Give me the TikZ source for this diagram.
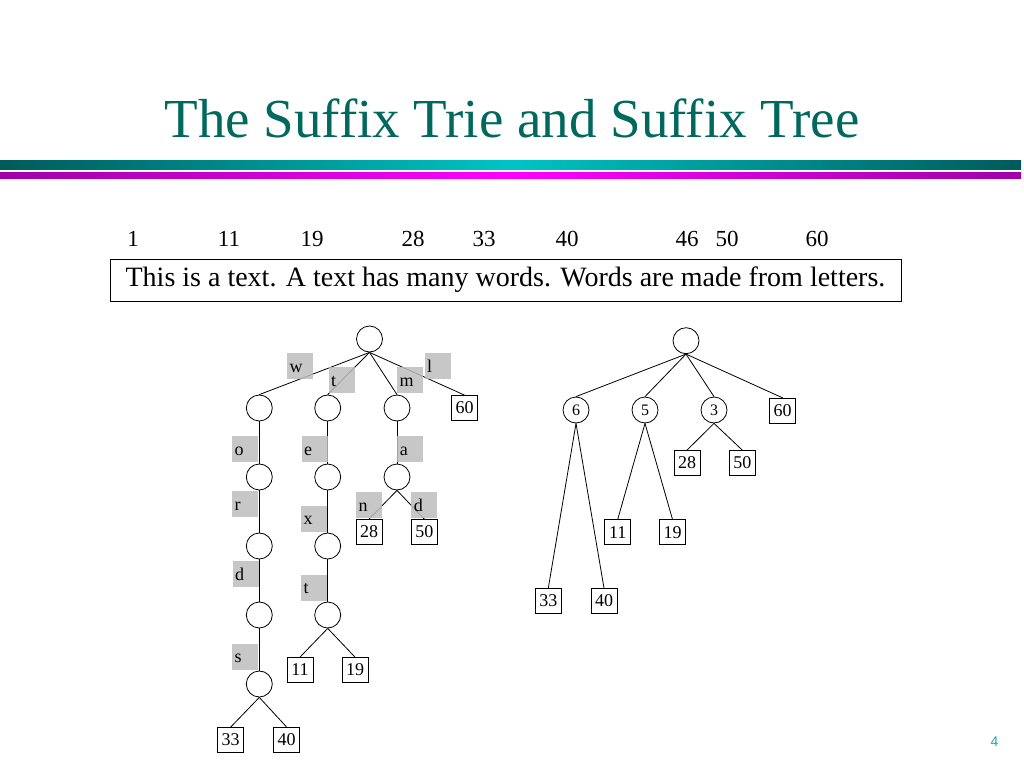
\documentclass[tikz,border=0pt]{standalone}
\usepackage{fontspec}
\setmainfont{Liberation Serif}
\newfontfamily\pagenofont{Liberation Sans}
\definecolor{titlegreen}{HTML}{00685C}
\definecolor{bardark}{HTML}{005A5A}
\definecolor{barlight}{HTML}{00C4C4}
\definecolor{pinkdark}{HTML}{A000A8}
\definecolor{pinklight}{HTML}{FF00FF}
\definecolor{pageno}{HTML}{1FA3B5}
\definecolor{labgray}{HTML}{BDBDBD}

\begin{document}
\begin{tikzpicture}[x=1pt, y=-1pt, line width=0.8pt,
  tnode/.style={draw, circle, minimum size=26pt, inner sep=0pt, font=\fontsize{16}{16}\selectfont},
  leaf/.style={draw, rectangle, minimum width=26pt, minimum height=25pt, inner sep=0pt, font=\fontsize{18}{18}\selectfont},
  lab/.style={fill=labgray, fill opacity=0.85, text opacity=1, minimum height=26pt, text width=21pt, text height=15pt, text depth=3pt, inner xsep=2.5pt, inner ysep=0pt, align=left, font=\fontsize{18}{18}\selectfont},
  posnum/.style={anchor=base, font=\fontsize{23}{23}\selectfont}]
\useasboundingbox (0,0) rectangle (1024,768);

% header
\node (title) at (512,118) {\fontsize{55}{55}\selectfont\color{titlegreen}The Suffix Trie and Suffix Tree};
\shade[left color=bardark, right color=bardark, middle color=barlight] (0,160) rectangle (1021,169);
\shade[left color=pinkdark, right color=pinkdark, middle color=pinklight] (0,172) rectangle (1021,178);

% text and positions
\node[draw, minimum width=791pt, minimum height=42pt, inner sep=0pt, font=\fontsize{28}{28}\selectfont] (text) at (505.5,280) {This is a text. A text has many words. Words are made from letters.};
\foreach \p/\x in {1/133, 11/229, 19/312, 28/413, 33/484, 40/567, 46/687, 50/727, 60/817}
  \node[posnum] (p\p) at (\x,246) {\p};

% suffix trie
\node[tnode] (root) at (369.5,339) {};
\node[tnode] (w1) at (259.3,408) {};
\node[tnode] (t1) at (327.7,408) {};
\node[tnode] (m1) at (397,408) {};
\node[leaf] (l60) at (464.5,408) {60};
\node[tnode] (o2) at (259.3,477) {};
\node[tnode] (e2) at (327.7,477) {};
\node[tnode] (a2) at (397,477) {};
\node[tnode] (r3) at (259.3,546) {};
\node[tnode] (x3) at (327.7,546) {};
\node[leaf] (n28) at (369,532) {28};
\node[leaf] (d50) at (424.3,532) {50};
\node[tnode] (d4) at (259.3,615) {};
\node[tnode] (t4) at (327.7,615) {};
\node[leaf] (t11) at (300,670) {11};
\node[leaf] (t19) at (355,670) {19};
\node[tnode] (s5) at (259.3,684) {};
\node[leaf] (s33) at (230.7,740) {33};
\node[leaf] (s40) at (286.7,740) {40};

\draw (root.south) -- (w1.north);
\draw (root.south) -- (t1.north);
\draw (root.south) -- (m1.north);
\draw (root.south) -- (l60.north);
\draw (w1) -- (o2);
\draw (o2) -- (r3);
\draw (r3) -- (d4);
\draw (d4) -- (s5);
\draw (s5.south) -- (s33.north);
\draw (s5.south) -- (s40.north);
\draw (t1) -- (e2);
\draw (e2) -- (x3);
\draw (x3) -- (t4);
\draw (t4.south) -- (t11.north);
\draw (t4.south) -- (t19.north);
\draw (m1) -- (a2);
\draw (a2.south) -- (n28.north);
\draw (a2.south) -- (d50.north);

% edge letters
\node[lab] (lw) at (300,366) {w};
\node[lab] (lt) at (341.7,380) {t};
\node[lab] (lm) at (410,380) {m};
\node[lab] (ll) at (437.7,366) {l};
\node[lab] (lo) at (245,449) {o};
\node[lab] (le) at (314.5,449) {e};
\node[lab] (la) at (410.3,449) {a};
\node[lab] (lr) at (245,504) {r};
\node[lab] (lx) at (314,518.7) {x};
\node[lab] (ln) at (369,505) {n};
\node[lab] (ld) at (424.3,505) {d};
\node[lab] (ld2) at (245.5,574) {d};
\node[lab] (lt2) at (314.2,587.7) {t};
\node[lab] (ls) at (245,656.7) {s};

% suffix tree
\node[tnode] (troot) at (686,340.7) {};
\node[tnode] (c6) at (576,410) {\raisebox{-2pt}{6}};
\node[tnode] (c5) at (645,410) {\raisebox{-2pt}{5}};
\node[tnode] (c3) at (714,410) {\raisebox{-2pt}{3}};
\node[leaf] (f60) at (782.7,410.8) {60};
\node[leaf] (f28) at (687,463) {28};
\node[leaf] (f50) at (742.3,463) {50};
\node[leaf] (f11) at (617.7,532.3) {11};
\node[leaf] (f19) at (672.5,532.3) {19};
\node[leaf] (f33) at (548.3,601) {33};
\node[leaf] (f40) at (604,601) {40};

\draw (troot.south) -- (c6.north);
\draw (troot.south) -- (c5.north);
\draw (troot.south) -- (c3.north);
\draw (troot.south) -- (f60.north);
\draw (c6.south) -- (f33.north);
\draw (c6.south) -- (f40.north);
\draw (c5.south) -- (f11.north);
\draw (c5.south) -- (f19.north);
\draw (c3.south) -- (f28.north);
\draw (c3.south) -- (f50.north);

\node[text=pageno, font=\pagenofont\fontsize{14}{14}\selectfont] (pageno) at (994.5,742) {4};
\end{tikzpicture}
\end{document}
